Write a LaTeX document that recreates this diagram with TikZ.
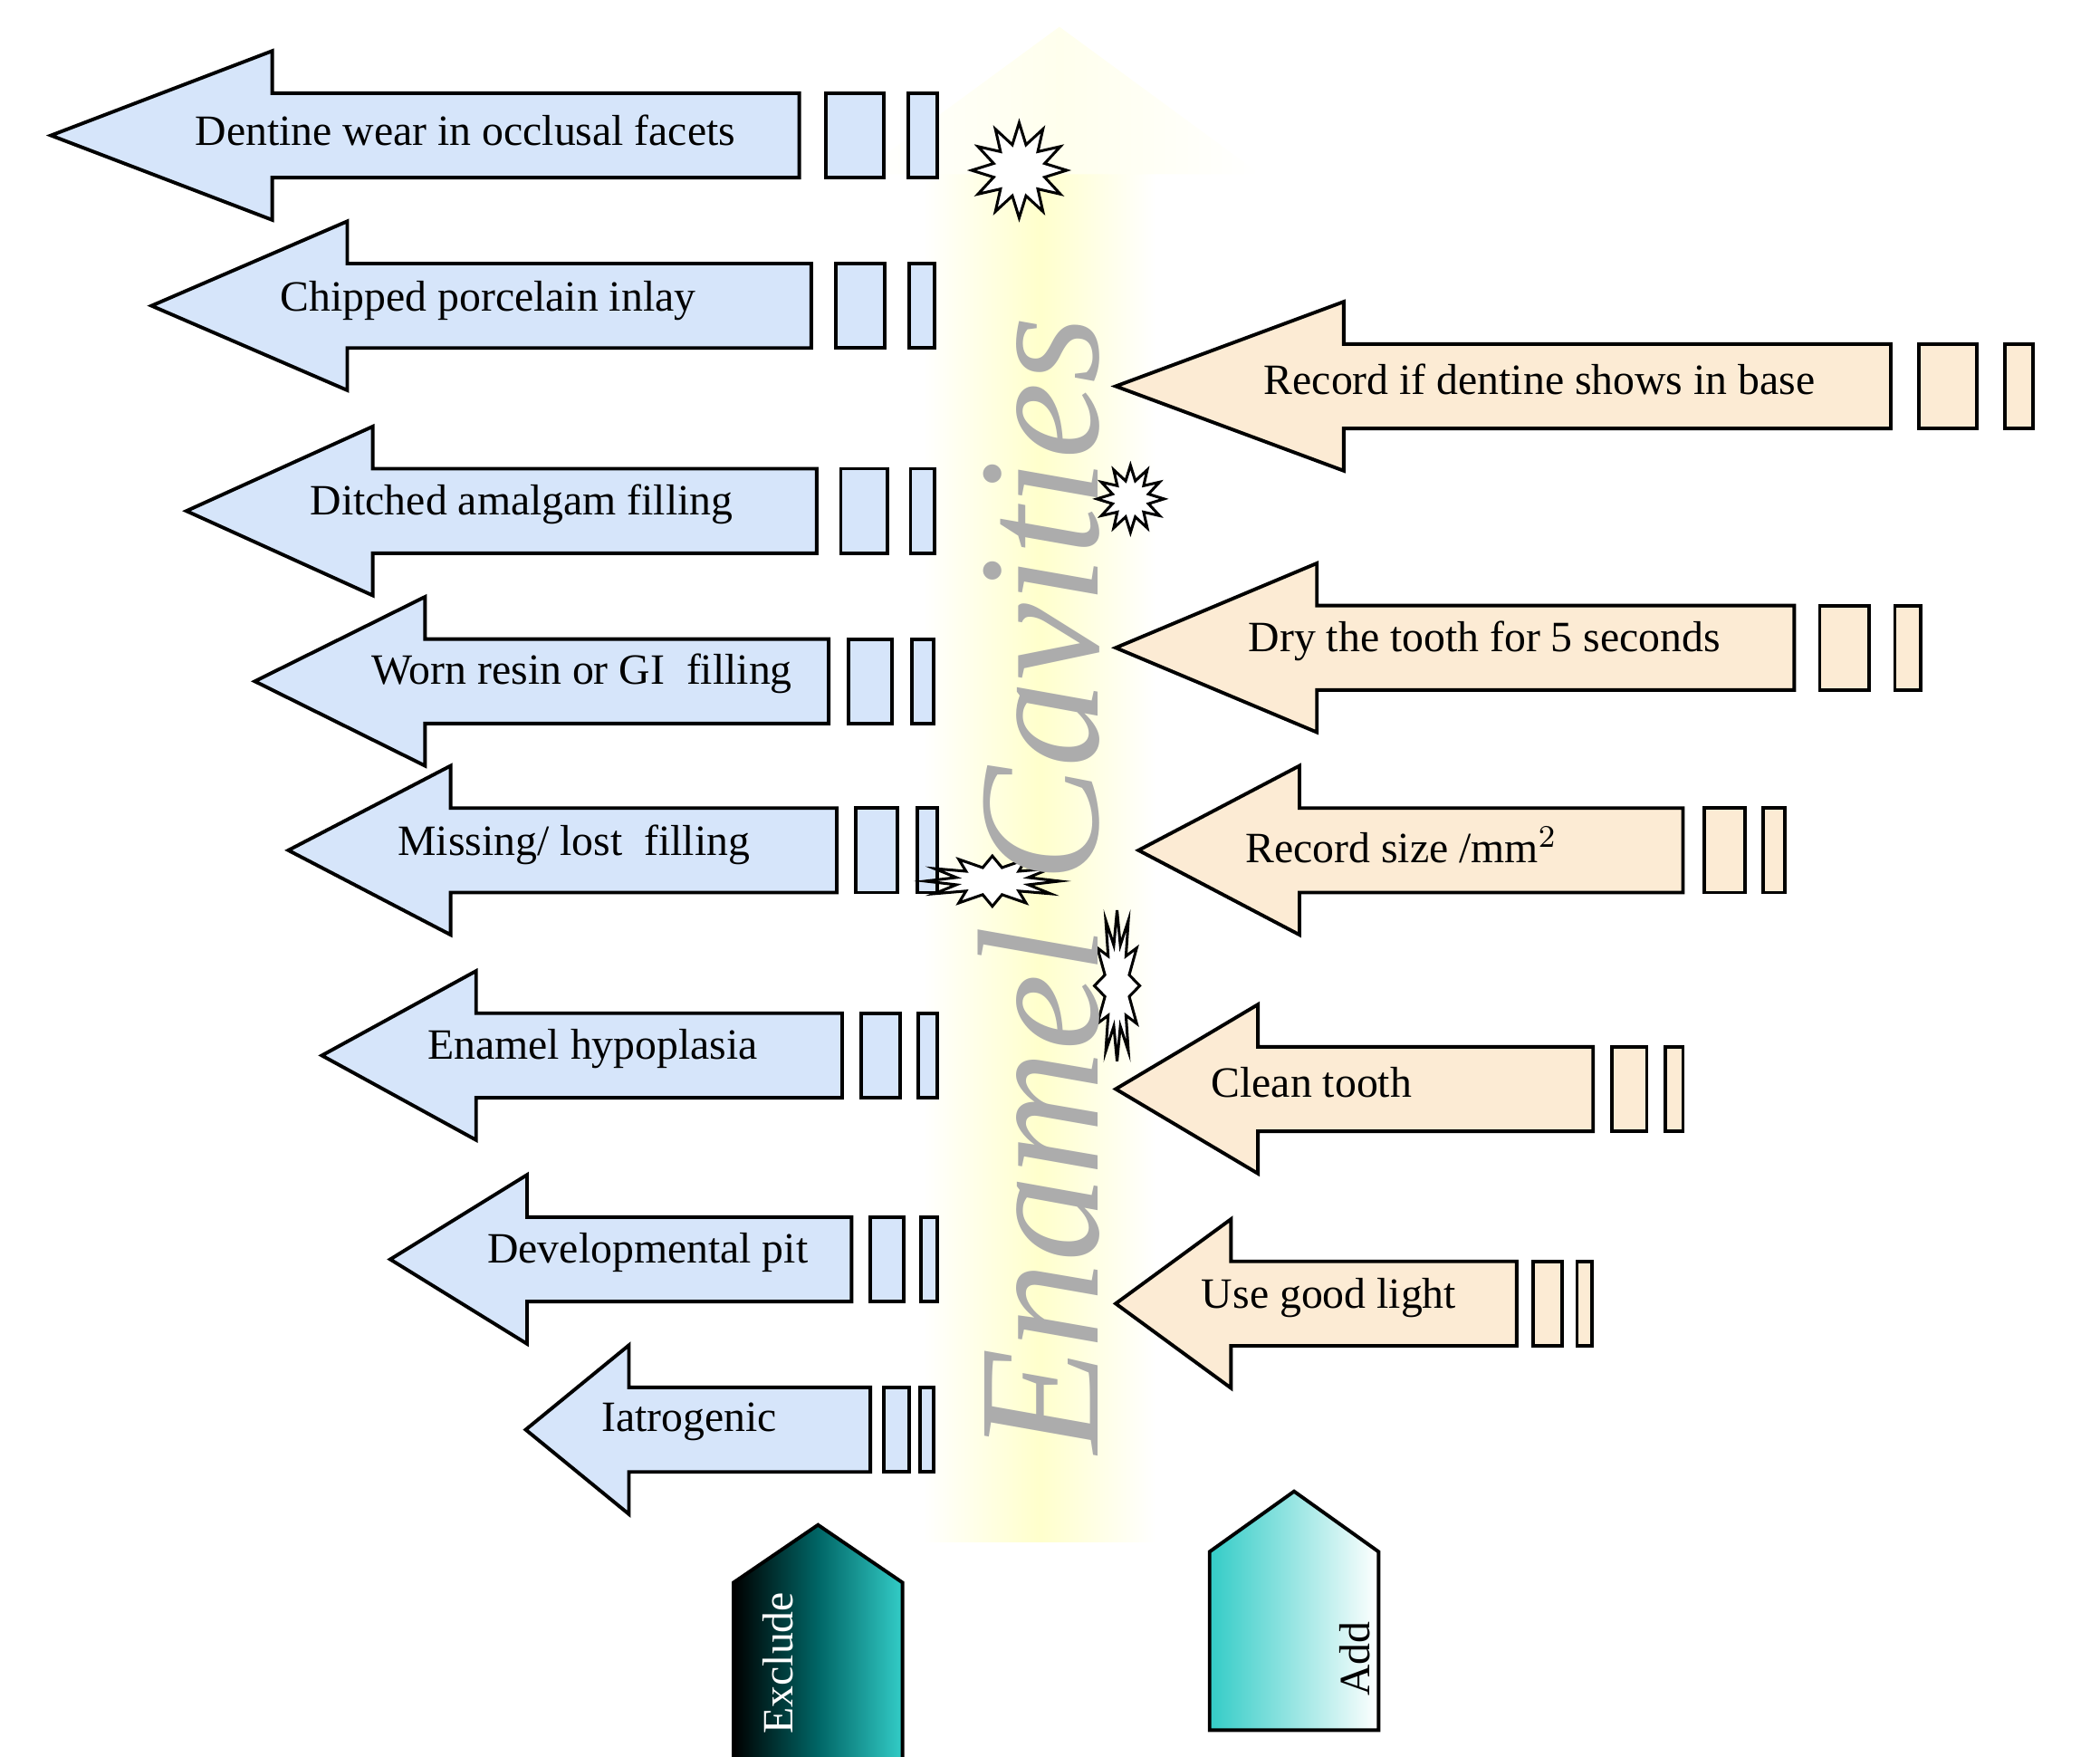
\documentclass[tikz,border=0pt]{standalone}
\usepackage{fontspec}
\setmainfont{Liberation Serif}
\usetikzlibrary{shapes.geometric}
\definecolor{lblue}{rgb}{0.84,0.90,0.98}
\definecolor{peach}{rgb}{0.99,0.92,0.83}
\definecolor{teal2}{rgb}{0.2,0.8,0.78}
\newcommand\myLA[5]{% tipx, y, headx, endx, col
 \draw[fill=#5,line width=0.9pt] (#1,#2) -- (#3,#2-63) -- (#3,#2-31.5) -- (#4,#2-31.5) -- (#4,#2+31.5) -- (#3,#2+31.5) -- (#3,#2+63) -- cycle;}
\newcommand\myRect[4]{\draw[fill=#4,line width=0.9pt] (#1,#3-31.5) rectangle (#2,#3+31.5);}
\tikzset{lab/.style={font=\fontsize{11}{13}\selectfont},
 burst/.style={star,star points=12,star point ratio=1.8,draw,fill=white,line width=0.7pt,inner sep=0pt}}
\begin{document}
\begin{tikzpicture}[x=0.012cm,y=-0.012cm]
\useasboundingbox (0,0) rectangle (1566,1310);
% central faint column
\shade[left color=white,right color=white,middle color=yellow!20] (688,130) rectangle (862,1150);
\shade[left color=white,right color=white,middle color=yellow!7] (640,130) -- (790,20) -- (940,130) -- cycle;
% left arrows
\myLA{38}{101}{203}{596}{lblue}\myRect{616}{659}{101}{lblue}\myRect{677}{699}{101}{lblue}
\myLA{113}{228}{259}{605}{lblue}\myRect{623}{660}{228}{lblue}\myRect{678}{697}{228}{lblue}
\myLA{139}{381}{278}{609}{lblue}\myRect{627}{662}{381}{lblue}\myRect{679}{697}{381}{lblue}
\myLA{190}{508}{317}{618}{lblue}\myRect{633}{665}{508}{lblue}\myRect{680}{696}{508}{lblue}
\myLA{215}{634}{336}{624}{lblue}\myRect{638}{669}{634}{lblue}\myRect{684}{699}{634}{lblue}
\myLA{240}{787}{355}{628}{lblue}\myRect{642}{671}{787}{lblue}\myRect{685}{699}{787}{lblue}
\myLA{291}{939}{393}{635}{lblue}\myRect{649}{674}{939}{lblue}\myRect{687}{699}{939}{lblue}
\myLA{392}{1066}{469}{649}{lblue}\myRect{659}{678}{1066}{lblue}\myRect{686}{696}{1066}{lblue}
% right arrows
\myLA{832}{288}{1002}{1410}{peach}\myRect{1431}{1474}{288}{peach}\myRect{1495}{1516}{288}{peach}
\myLA{832}{483}{982}{1338}{peach}\myRect{1357}{1394}{483}{peach}\myRect{1413}{1432}{483}{peach}
\myLA{849}{634}{969}{1255}{peach}\myRect{1271}{1301}{634}{peach}\myRect{1315}{1331}{634}{peach}
\myLA{832}{812}{938}{1188}{peach}\myRect{1202}{1228}{812}{peach}\myRect{1242}{1255}{812}{peach}
\myLA{832}{972}{918}{1131}{peach}\myRect{1143}{1165}{972}{peach}\myRect{1176}{1187}{972}{peach}
% labels
\node[lab] (l1) at (347,97) {Dentine wear in occlusal facets};
\node[lab] (l2) at (364,224) {Chipped porcelain inlay};
\node[lab] (l3) at (389,376) {Ditched amalgam filling};
\node[lab] (l4) at (434,502) {Worn resin or GI\ \ filling};
\node[lab] (l5) at (428,630) {Missing/ lost\ \ filling};
\node[lab] (l6) at (442,782) {Enamel hypoplasia};
\node[lab] (l7) at (483,934) {Developmental pit};
\node[lab] (l8) at (514,1060) {Iatrogenic};
\node[lab] (r1) at (1148,283) {Record if dentine shows in base};
\node[lab] (r2) at (1107,478) {Dry the tooth for 5 seconds};
\node[lab] (r3) at (1045,630) {Record size /mm$^{2}$};
\node[lab] (r4) at (978,807) {Clean tooth};
\node[lab] (r5) at (991,968) {Use good light};
% starbursts
\node[burst,minimum size=0.85cm] (s1) at (760,127) {};
\node[burst,minimum size=0.6cm] (s2) at (843,372) {};
\node[burst,minimum size=0.75cm,xscale=1.6,yscale=0.6] (s3) at (740,657) {};
\node[burst,minimum size=0.9cm,xscale=0.45,yscale=1.5] (s4) at (833,735) {};
% title
\node[rotate=90,font=\fontsize{44}{46}\selectfont\itshape,text=gray!65] (title) at (775,660) {Enamel Cavities};
% bottom arrows
\shade[left color=black,right color=teal2,middle color=teal!80!black] (547,1311) -- (547,1180) -- (610,1137) -- (673,1180) -- (673,1311) -- cycle;
\draw[line width=0.9pt] (547,1310) -- (547,1180) -- (610,1137) -- (673,1180) -- (673,1310);
\node[rotate=90,text=white,font=\fontsize{11}{13}\selectfont] (ex) at (580,1240) {Exclude};
\shade[left color=teal2,right color=white] (902,1290) -- (902,1157) -- (965,1112) -- (1028,1157) -- (1028,1290) -- cycle;
\draw[line width=0.9pt] (902,1290) -- (902,1157) -- (965,1112) -- (1028,1157) -- (1028,1290) -- cycle;
\node[rotate=90,font=\fontsize{11}{13}\selectfont] (ad) at (1010,1237) {Add};
\end{tikzpicture}
\end{document}
